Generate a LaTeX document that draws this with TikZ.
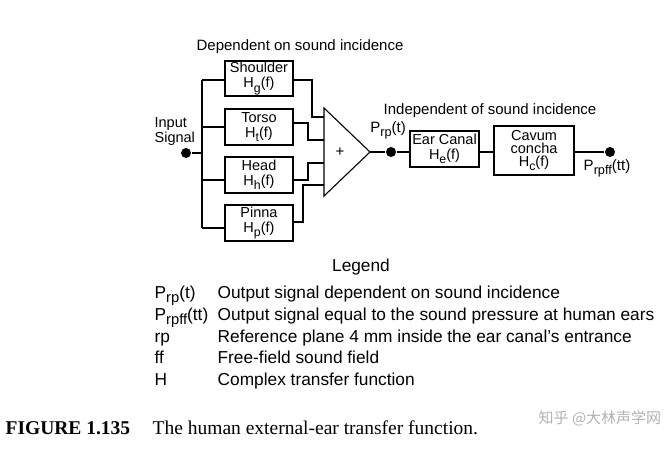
\documentclass[tikz,border=0pt]{standalone}
\usepackage{fontspec}
\setmainfont{Liberation Sans}
\newfontfamily\capfont{Liberation Serif}
\newfontfamily\cjk{Noto Sans CJK SC}
\newcommand\sbs[1]{\raisebox{-0.28em}{\scalebox{0.85}{#1}}}
\begin{document}
\begin{tikzpicture}[x=1pt,y=-1pt,line width=1.3pt,
  blk/.style={draw,line width=1.1pt,align=center,inner sep=0pt,font=\fontsize{14.5}{15}\selectfont},
  lbl/.style={font=\fontsize{15}{15}\selectfont,inner sep=0pt},
  leg/.style={font=\fontsize{17.3}{18}\selectfont,inner sep=0pt,anchor=base west},
  dot/.style={circle,fill,inner sep=0pt,minimum size=10pt}]
\useasboundingbox (0,0) rectangle (666,448);
\node[dot] (in) at (186,153) {};
\node[lbl,align=left,anchor=south west,font=\fontsize{14.5}{13}\selectfont] (inl) at (154,146) {Input\\Signal};
\node[lbl] (dep) at (300,47) {Dependent on sound incidence};
\node[blk,minimum width=68pt,minimum height=35pt] (sh) at (259,78.5) {Shoulder\\H\sbs{g}(f)};
\node[blk,minimum width=68pt,minimum height=36pt] (to) at (259,127) {Torso\\H\sbs{t}(f)};
\node[blk,minimum width=68pt,minimum height=36pt] (he) at (259,175) {Head\\H\sbs{h}(f)};
\node[blk,minimum width=68pt,minimum height=36pt] (pi) at (259,223) {Pinna\\H\sbs{p}(f)};
\coordinate (b1) at (202,80); \coordinate (b2) at (202,228);
\draw (b1) -- (b2);
\draw (in) -- (202,153);
\draw (b1) -- (sh.west |- b1);
\draw (202,127) -- (to.west);
\draw (202,180) -- (he.west |- 202,180);
\draw (b2) -- (pi.west |- b2);
\draw[line width=1.1pt] (324,108) coordinate (t1) -- (370,152) coordinate (tip) -- (324,196) coordinate (t2) -- cycle;
\node[lbl] (plus) at (340,152) {+};
\draw (sh.east |- 293,80) -- (312,80) -- (312,117) -- (324,117);
\draw (to.east |- 293,123) -- (308,123) -- (308,140) -- (324,140);
\draw (he.east |- 293,180) -- (308,180) -- (308,163) -- (324,163);
\draw (pi.east |- 293,222) -- (303,222) -- (303,185) -- (324,185);
\node[dot] (prp) at (391,152) {};
\node[lbl,anchor=south] (prpl) at (388,140) {P\sbs{rp}(t)};
\node[lbl] (ind) at (490,111) {Independent of sound incidence};
\node[blk,minimum width=69pt,minimum height=36pt] (ec) at (444.5,149) {Ear Canal\\H\sbs{e}(f)};
\node[blk,minimum width=80pt,minimum height=49pt] (cc) at (534,150.5) {Cavum\\[-2pt]concha\\[-2pt]H\sbs{c}(f)};
\node[dot] (out) at (610,152) {};
\node[lbl,anchor=north] (outl) at (607,159) {P\sbs{rpff}(tt)};
\draw (tip) -- (prp) -- (ec.west |- prp);
\draw (ec.east |- 480,152) -- (cc.west |- 480,152);
\draw (cc.east |- 575,152) -- (out);
\node[font=\fontsize{17.3}{18}\selectfont] (lg) at (361,267) {Legend};
\node[leg] (k1) at (154,298) {P\sbs{rp}(t)};
\node[leg] (k2) at (154,320) {P\sbs{rpff}(tt)};
\node[leg] (k3) at (154,342) {rp};
\node[leg] (k4) at (154,363) {ff};
\node[leg] (k5) at (154,385) {H};
\node[leg] (v1) at (217,298) {Output signal dependent on sound incidence};
\node[leg] (v2) at (217,320) {Output signal equal to the sound pressure at human ears};
\node[leg] (v3) at (217,342) {Reference plane 4 mm inside the ear canal’s entrance};
\node[leg] (v4) at (217,363) {Free-field sound field};
\node[leg] (v5) at (217,385) {Complex transfer function};
\node[anchor=west,inner sep=0pt,font=\capfont\bfseries\fontsize{19.5}{20}\selectfont] (fig) at (5,428) {FIGURE 1.135};
\node[anchor=west,inner sep=0pt,font=\capfont\fontsize{19.5}{20}\selectfont] (cap) at (152,428) {The human external-ear transfer function.};
\node[anchor=west,inner sep=0pt,text=gray!60,font=\cjk\fontsize{15}{16}\selectfont] (wm) at (538,418) {知乎 @大林声学网};
\end{tikzpicture}
\end{document}
